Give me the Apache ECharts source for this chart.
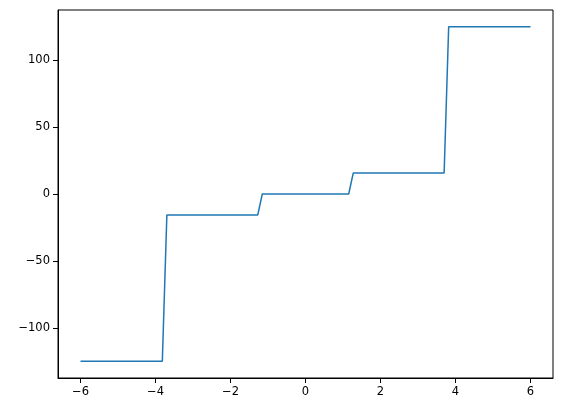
<!DOCTYPE html>
<html>
<head>
<meta charset="utf-8">
<script src="https://cdn.jsdelivr.net/npm/echarts@6/dist/echarts.min.js"></script>
<style>html,body{margin:0;padding:0;background:#fff}#chart{width:563px;height:413px}</style>
</head>
<body>
<div id="chart"></div>
<script>
// sampled points of the step curve (x, y)
var xs = [-6, -3.818, -3.697, -1.273, -1.152, 1.152, 1.273, 3.697, 3.818, 6];
var ys = [-125, -125, -15.625, -15.625, 0, 0, 15.625, 15.625, 125, 125];
var xTicks = [-6, -4, -2, 0, 2, 4, 6];
var yTicks = [-100, -50, 0, 50, 100];

var chart = echarts.init(document.getElementById('chart'));
var data = xs.map(function (x, i) { return [x, ys[i]]; });
function fmt(v) { return String(v).replace('-', '\u2212'); }
var axisText = { color: '#000', fontFamily: 'DejaVu Sans', fontSize: 11.5, formatter: fmt };
chart.setOption({
    animation: false,
    grid: { left: 58, right: 10, top: 10, bottom: 35, show: true, borderColor: '#000', borderWidth: 1 },
    xAxis: {
        type: 'value', min: -6.6, max: 6.6,
        splitLine: { show: false },
        axisLine: { show: true, onZero: false, lineStyle: { color: '#000' } },
        axisTick: { show: true, customValues: xTicks, length: 5, lineStyle: { color: '#000' } },
        axisLabel: Object.assign({ customValues: xTicks, margin: 8 }, axisText)
    },
    yAxis: {
        type: 'value', min: -137.5, max: 137.5,
        splitLine: { show: false },
        axisLine: { show: true, onZero: false, lineStyle: { color: '#000' } },
        axisTick: { show: true, customValues: yTicks, length: 5, lineStyle: { color: '#000' } },
        axisLabel: Object.assign({ customValues: yTicks, margin: 8 }, axisText)
    },
    series: [{
        type: 'line',
        data: data,
        showSymbol: false,
        lineStyle: { color: '#1f77b4', width: 1.5 }
    }]
});
</script>
</body>
</html>
